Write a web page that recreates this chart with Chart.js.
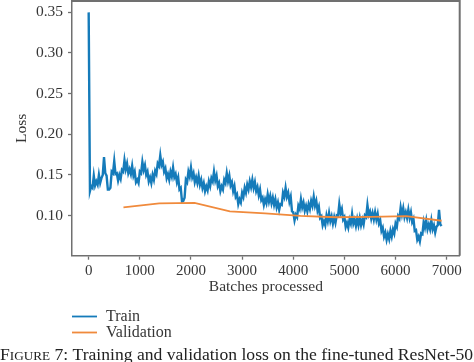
<!DOCTYPE html>
<html>
<head>
<meta charset="utf-8">
<script src="https://cdn.jsdelivr.net/npm/chart.js@4.4.1/dist/chart.umd.min.js"></script>
<style>
  html, body { margin: 0; padding: 0; background: #fff; overflow: hidden; }
  canvas { display: block; }
</style>
</head>
<body>
<canvas id="chart" width="474" height="362"></canvas>
<script>
// DATA
// the train curve is a noisy band: its upper edge read every 50 batches (0, 50, ...)
// and its lower edge read in between (25, 75, ...)
const trainStep = 50;
const trainTop = [
  0.350, 0.136, 0.149, 0.142, 0.150, 0.146, 0.172, 0.149, 0.132, 0.154, 0.167, 0.152, 0.150, 0.156, 0.168, 0.164, 0.157, 0.161, 0.154, 0.144,
  0.154, 0.166, 0.162, 0.154, 0.147, 0.150, 0.155, 0.164, 0.174, 0.166, 0.158, 0.151, 0.154, 0.159, 0.151, 0.147, 0.134, 0.118, 0.144, 0.154,
  0.159, 0.152, 0.147, 0.149, 0.144, 0.140, 0.136, 0.142, 0.146, 0.154, 0.149, 0.140, 0.136, 0.144, 0.152, 0.149, 0.141, 0.136, 0.126, 0.120,
  0.128, 0.134, 0.138, 0.142, 0.144, 0.141, 0.135, 0.132, 0.122, 0.120, 0.126, 0.124, 0.122, 0.120, 0.116, 0.114, 0.128, 0.134, 0.128, 0.123,
  0.104, 0.101, 0.112, 0.120, 0.116, 0.112, 0.114, 0.118, 0.123, 0.118, 0.111, 0.099, 0.093, 0.100, 0.103, 0.099, 0.098, 0.100, 0.114, 0.108,
  0.098, 0.091, 0.095, 0.102, 0.095, 0.096, 0.097, 0.095, 0.100, 0.113, 0.105, 0.103, 0.104, 0.102, 0.094, 0.085, 0.079, 0.077, 0.081, 0.083,
  0.090, 0.099, 0.110, 0.109, 0.104, 0.107, 0.104, 0.096, 0.082, 0.074, 0.078, 0.092, 0.094, 0.089, 0.094, 0.088, 0.086, 0.107, 0.087];
const trainBottom = [
  0.130, 0.134, 0.137, 0.138, 0.140, 0.150, 0.152, 0.132, 0.134, 0.152, 0.151, 0.143, 0.145, 0.154, 0.157, 0.152, 0.151, 0.149, 0.141, 0.140,
  0.152, 0.156, 0.150, 0.142, 0.140, 0.144, 0.151, 0.161, 0.162, 0.154, 0.146, 0.144, 0.148, 0.147, 0.141, 0.132, 0.117, 0.122, 0.141, 0.148,
  0.147, 0.141, 0.140, 0.138, 0.134, 0.130, 0.131, 0.136, 0.142, 0.143, 0.136, 0.130, 0.132, 0.140, 0.142, 0.137, 0.130, 0.123, 0.114, 0.116,
  0.123, 0.128, 0.132, 0.135, 0.134, 0.130, 0.125, 0.119, 0.113, 0.115, 0.117, 0.115, 0.113, 0.110, 0.107, 0.113, 0.123, 0.123, 0.117, 0.105,
  0.094, 0.098, 0.108, 0.110, 0.106, 0.105, 0.108, 0.112, 0.112, 0.106, 0.097, 0.088, 0.088, 0.093, 0.093, 0.090, 0.091, 0.099, 0.103, 0.095,
  0.086, 0.085, 0.090, 0.090, 0.087, 0.088, 0.088, 0.089, 0.098, 0.101, 0.096, 0.095, 0.095, 0.090, 0.081, 0.074, 0.070, 0.071, 0.074, 0.078,
  0.086, 0.096, 0.101, 0.098, 0.097, 0.097, 0.092, 0.081, 0.070, 0.068, 0.077, 0.085, 0.083, 0.083, 0.083, 0.079, 0.088, 0.089];

const valBatches = [680, 1380, 2070, 2760, 3450, 4140, 4830, 5520, 6210, 6900];
const valLoss = [0.110, 0.1148, 0.1155, 0.105, 0.1025, 0.0995, 0.0978, 0.0983, 0.0993, 0.0935];

const xTicks = [0, 1000, 2000, 3000, 4000, 5000, 6000, 7000];
const yTicks = [0.10, 0.15, 0.20, 0.25, 0.30, 0.35];

const seriesNames = ['Train', 'Validation'];
const seriesColors = ['#157bba', '#f08a3c'];

const serif = "'Liberation Serif', 'DejaVu Serif', serif";
const spine = '#707070';
const textColor = '#363636';

// interleave upper/lower edge readings into one line
const trainPoints = [];
trainTop.forEach((v, i) => {
    trainPoints.push({x: i * trainStep, y: v});
    if (i < trainBottom.length) trainPoints.push({x: i * trainStep + trainStep / 2, y: trainBottom[i]});
});

// frame on top/right, legend below the axes, figure caption
const extras = {
    id: 'extras',
    afterDraw(chart) {
        const c = chart.ctx, a = chart.chartArea;
        c.save();
        c.strokeStyle = spine;
        c.lineWidth = 2;
        c.beginPath();
        c.moveTo(a.left, a.top);
        c.lineTo(a.right, a.top);
        c.lineTo(a.right, a.bottom);
        c.stroke();

        // legend
        c.font = '16px ' + serif;
        c.textBaseline = 'middle';
        c.fillStyle = textColor;
        const rows = [316.5, 332.5];
        seriesNames.forEach((name, i) => {
            c.strokeStyle = seriesColors[i];
            c.lineWidth = 1.8;
            c.beginPath();
            c.moveTo(72, rows[i]);
            c.lineTo(97, rows[i]);
            c.stroke();
            c.fillText(name, 106, rows[i]);
        });

        // caption (cut by the bottom edge, as in the source)
        c.fillStyle = '#222';
        c.textBaseline = 'alphabetic';
        let x = 0;
        const y = 360;
        c.font = '17.6px ' + serif;
        c.fillText('F', x, y); x += c.measureText('F').width;
        c.font = '13.2px ' + serif;
        c.fillText('IGURE', x, y); x += c.measureText('IGURE').width;
        c.font = '17.6px ' + serif;
        c.fillText(' 7: Training and validation loss on the fine-tuned ResNet-50', x, y);
        c.restore();
    }
};

var ctx = document.getElementById('chart').getContext('2d');
var myChart = new Chart(ctx, {
    type: 'line',
    data: {
        datasets: [{
            label: seriesNames[0],
            data: trainPoints,
            borderColor: seriesColors[0],
            backgroundColor: seriesColors[0],
            borderWidth: 2.4,
            pointRadius: 0,
            tension: 0,
            order: 1
        }, {
            label: seriesNames[1],
            data: valBatches.map((b, i) => ({x: b, y: valLoss[i]})),
            borderColor: seriesColors[1],
            backgroundColor: seriesColors[1],
            borderWidth: 1.8,
            pointRadius: 0,
            tension: 0,
            order: 0
        }]
    },
    options: {
        responsive: false,
        animation: false,
        layout: { padding: { left: 0, right: 14.3, top: 1, bottom: 62 } },
        scales: {
            x: {
                type: 'linear',
                min: -326,
                max: 7254,
                afterBuildTicks: s => { s.ticks = xTicks.map(v => ({value: v})); },
                afterFit: s => { s.height = 44.3; s.paddingLeft = 0; s.paddingRight = 0; },
                grid: { drawOnChartArea: false, drawTicks: true, tickLength: 4, tickColor: spine, tickWidth: 1.3 },
                border: { display: true, color: spine, width: 1.5 },
                ticks: {
                    padding: 2,
                    maxRotation: 0,
                    autoSkip: false,
                    color: textColor,
                    font: { family: serif, size: 15 },
                    callback: v => String(v)
                },
                title: {
                    display: true,
                    text: 'Batches processed',
                    color: textColor,
                    font: { family: serif, size: 15.5 },
                    padding: { top: 0, bottom: 4 }
                }
            },
            y: {
                min: 0.0505,
                max: 0.364,
                afterBuildTicks: s => { s.ticks = yTicks.map(v => ({value: v})); },
                afterFit: s => { s.width = 72; s.paddingTop = 0; s.paddingBottom = 0; },
                grid: { drawOnChartArea: false, drawTicks: true, tickLength: 4, tickColor: spine, tickWidth: 1.3 },
                border: { display: true, color: spine, width: 1.5 },
                ticks: {
                    padding: 5,
                    autoSkip: false,
                    color: textColor,
                    font: { family: serif, size: 15.5 },
                    callback: v => v.toFixed(2)
                },
                title: {
                    display: true,
                    text: 'Loss',
                    color: textColor,
                    font: { family: serif, size: 15.5 },
                    padding: { top: 13, bottom: 0 }
                }
            }
        },
        plugins: {
            legend: { display: false },
            tooltip: { enabled: false }
        }
    },
    plugins: [extras]
});
</script>
</body>
</html>
